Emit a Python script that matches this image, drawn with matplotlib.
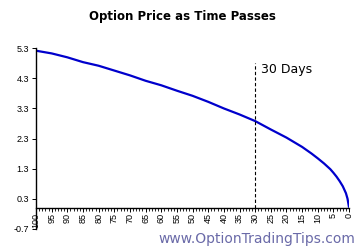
import matplotlib
matplotlib.use("Agg")
import matplotlib.pyplot as plt
from matplotlib.ticker import MultipleLocator

# days left until expiry and the option price
dias = [100, 95, 90, 85, 80, 75, 70, 65, 60, 55, 50, 45, 40, 35, 30,
        25, 20, 15, 12, 10, 8, 6, 5, 4, 3, 2, 1, 0.5, 0]
preco = [5.22, 5.13, 5.00, 4.84, 4.72, 4.56, 4.40, 4.22, 4.07, 3.89, 3.72,
         3.52, 3.30, 3.10, 2.88, 2.60, 2.33, 2.02, 1.80, 1.64, 1.47, 1.28,
         1.16, 1.03, 0.88, 0.71, 0.48, 0.30, 0.0]
yticks = [5.3, 4.3, 3.3, 2.3, 1.3, 0.3, -0.7]
marca = 30

plt.rcParams["font.family"] = ["Liberation Sans", "DejaVu Sans"]

fig = plt.figure(figsize=(3.64, 2.49), dpi=100)
ax = fig.add_axes([0.099, 0.0815, 0.86, 0.7245])

ax.plot(dias, preco, color="#0000cc", lw=1.6, solid_capstyle="butt")
ax.plot([marca, marca], [0, 4.8], color="black", lw=0.8, ls=(0, (3, 2)))
ax.text(marca - 2, 4.8, "30 Days", fontsize=9, va="top", ha="left",
        family="DejaVu Sans")

ax.set_xlim(100, 0)
ax.set_ylim(-0.7, 5.3)
ax.set_yticks(yticks)
ax.set_yticklabels([str(v) for v in yticks], fontsize=6.5)

ax.xaxis.set_major_locator(MultipleLocator(5))
ax.xaxis.set_minor_locator(MultipleLocator(1))
ax.tick_params(axis="x", which="major", labelsize=6.5, labelrotation=90,
               length=3, width=0.7, pad=1)
ax.tick_params(axis="x", which="minor", length=2, width=0.6)
ax.tick_params(axis="y", length=3, width=0.7, pad=2)

ax.spines["bottom"].set_position(("data", 0))
ax.spines["top"].set_visible(False)
ax.spines["right"].set_visible(False)
ax.spines["left"].set_linewidth(1)
ax.spines["bottom"].set_linewidth(1)
ax.spines["bottom"].set_bounds(100, 0)

fig.text(0.5, 0.935, "Option Price as Time Passes", ha="center", va="center",
         fontsize=8.5, fontweight="bold", family="DejaVu Sans")
fig.text(0.975, 0.04, "www.OptionTradingTips.com", ha="right", va="center",
         fontsize=10, color="#6a6aa8", family="DejaVu Sans")

fig.savefig("out.png", dpi=100)
